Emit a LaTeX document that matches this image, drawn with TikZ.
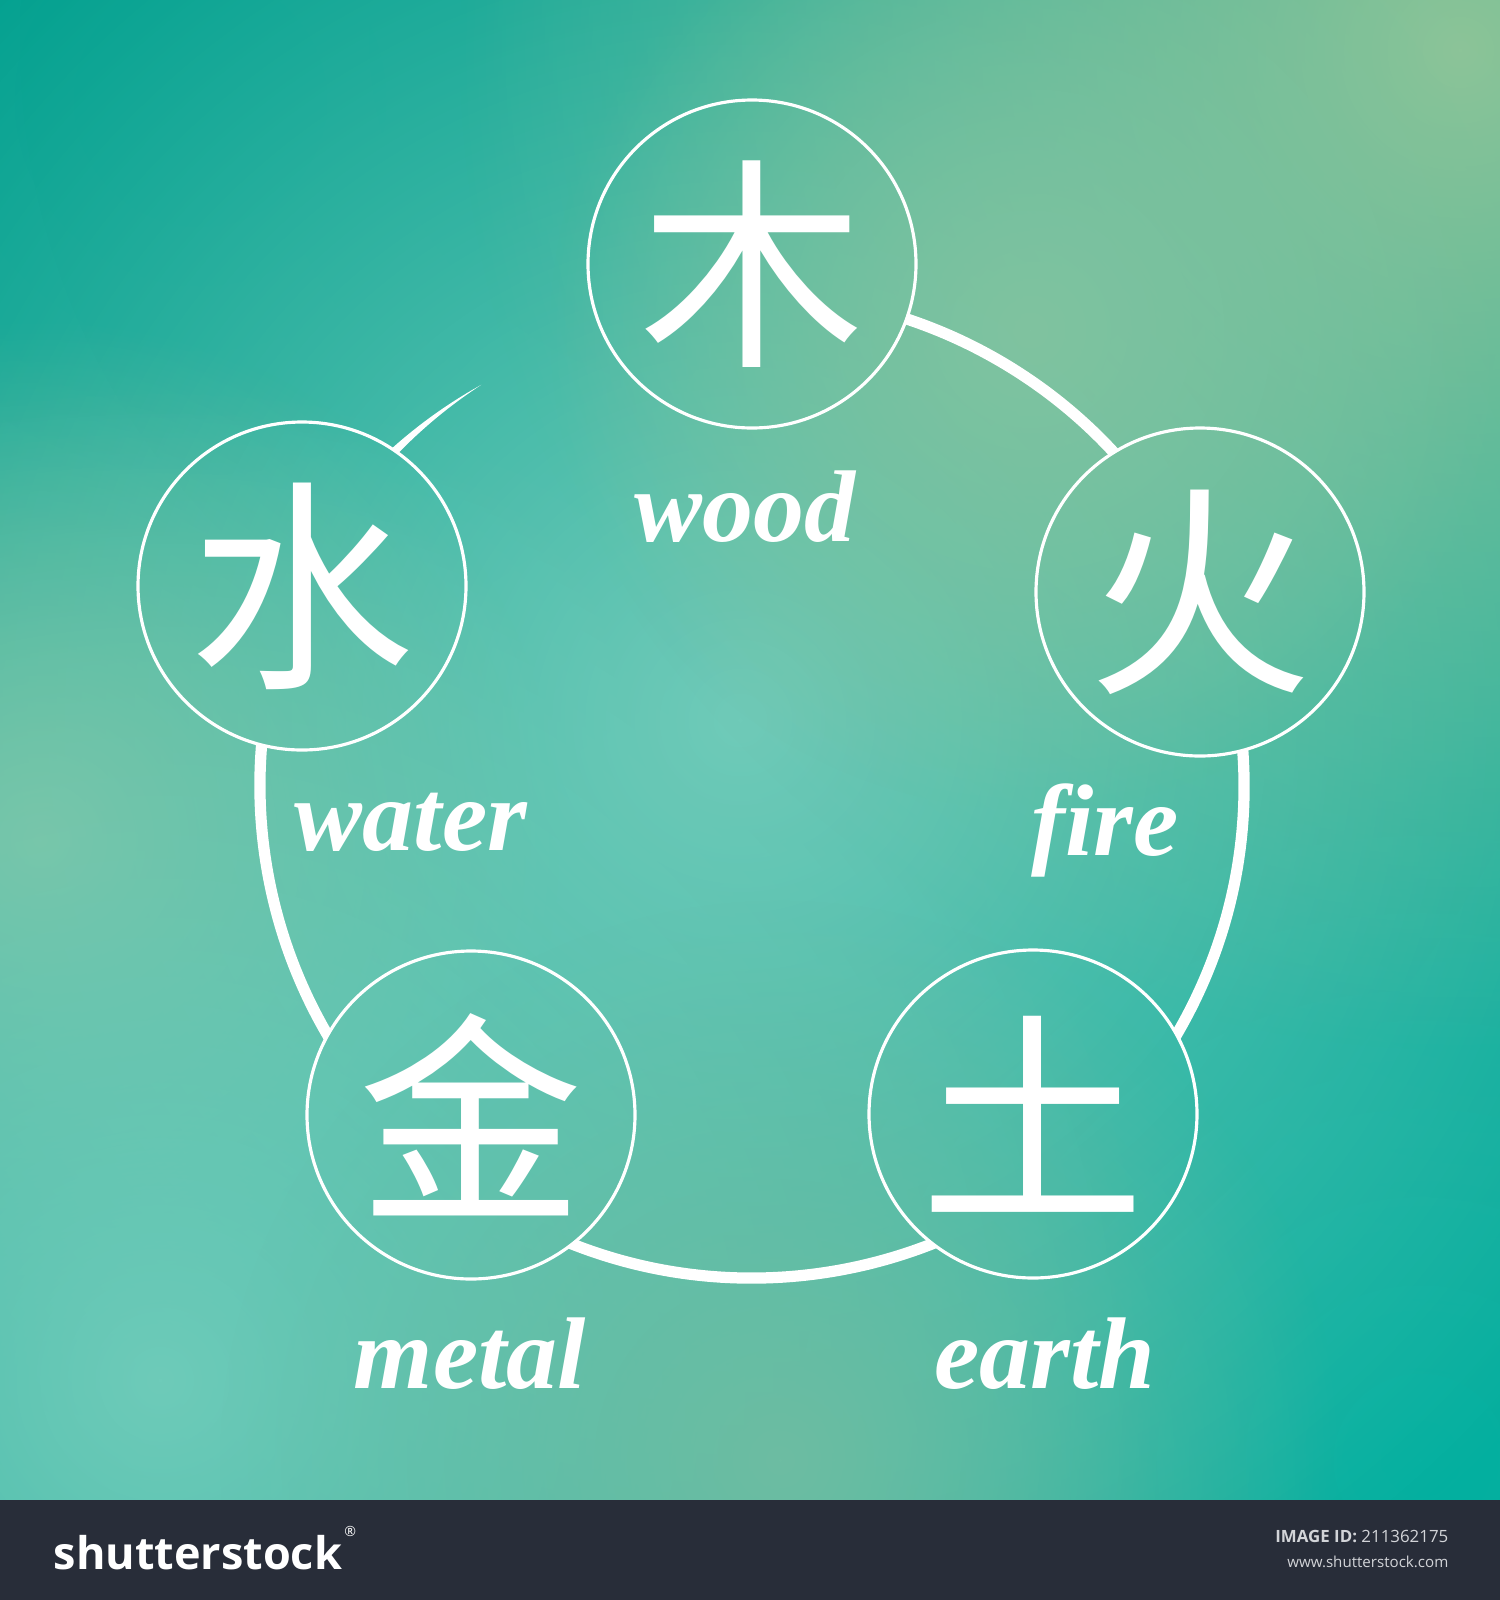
\documentclass[tikz,border=0pt]{standalone}
\usepackage{fontspec}
\usepackage{tikz}
\usetikzlibrary{fadings}

\setmainfont{Liberation Serif}
\newfontfamily\hanfont{Noto Sans CJK SC}
\newfontfamily\footfont{Open Sans}

\definecolor{tealbase}{HTML}{18A898}
\definecolor{tealdark}{HTML}{00A08F}
\definecolor{tealmid}{HTML}{02A898}
\definecolor{tealbright}{HTML}{02B0A0}
\definecolor{mintlight}{HTML}{70CBB9}
\definecolor{mintsoft}{HTML}{6ECBB9}
\definecolor{sagegreen}{HTML}{8CC498}
\definecolor{sagesoft}{HTML}{80C3A0}
\definecolor{sagebottom}{HTML}{6DBDA2}
\definecolor{footerbg}{HTML}{282D39}
\definecolor{footertext}{HTML}{D2D4D8}

\tikzfading[name=softblob, inner color=transparent!0, outer color=transparent!100]

\begin{document}
\begin{tikzpicture}[
    x=0.1mm, y=-0.1mm,
    blob/.style={path fading=softblob},
    elem/.style={
        circle,
        draw=white,
        line width=0.9pt,
        minimum size=32.8mm,
        inner sep=0pt
    },
    glyph/.style={
        text=white,
        inner sep=0pt,
        font=\hanfont\fontsize{64}{64}\selectfont
    },
    tag/.style={
        text=white,
        anchor=base,
        inner sep=0pt,
        font=\bfseries\itshape\fontsize{29}{29}\selectfont
    },
    ring/.style={
        draw=white,
        line width=3.2pt
    }
]

\useasboundingbox (0,0) rectangle (1500,1600);

% Background
\fill[tealbase] (0,0) rectangle (1500,1500);
\begin{scope}
\clip (0,0) rectangle (1500,1500);
\fill[tealdark, blob] (200,100) circle (1500);
\fill[tealdark, blob] (720,40) circle (700);
\fill[tealmid, blob] (1490,820) circle (760);
\fill[tealbright, blob] (1420,1460) circle (700);
\fill[mintlight, blob] (740,720) circle (1050);
\fill[sagegreen, blob] (1460,50) circle (1000);
\fill[sagesoft, blob] (1030,330) circle (480);
\fill[sagesoft, blob] (40,840) circle (520);
\fill[mintsoft, blob] (160,1380) circle (1000);
\fill[sagebottom, blob] (780,1460) circle (560);
\end{scope}

% Footer
\fill[footerbg] (0,1500) rectangle (1600,1600);
\node[anchor=west, inner sep=0pt, text=white, font=\footfont\bfseries\fontsize{12.8}{12.8}\selectfont] (brand) at (53,1553) {shutterstock};
\node[anchor=south west, inner sep=0.3pt, text=white, font=\footfont\fontsize{4}{4}\selectfont] (regmark) at (brand.east |- 0,1538) {®};
\node[anchor=base east, inner sep=0pt, text=footertext, font=\footfont\fontsize{4.8}{4.8}\selectfont] (imgid) at (1449,1542) {\textbf{IMAGE ID:} 211362175};
\node[anchor=base east, inner sep=0pt, text=footertext, font=\footfont\fontsize{4.3}{4.3}\selectfont] (site) at (1449,1567) {www.shutterstock.com};

% Elements
\coordinate (bigc) at (752,786);
\node[elem] (wood) at (752,264) {};
\node[elem] (fire) at (1200,592) {};
\node[elem] (earth) at (1033,1114) {};
\node[elem] (metal) at (471,1115) {};
\node[elem] (water) at (302,586) {};

% Cycle
\begin{scope}[even odd rule]
\clip (0,0) rectangle (1500,1500)
    (wood.center) circle (164) (fire.center) circle (164)
    (earth.center) circle (164) (metal.center) circle (164)
    (water.center) circle (164);
\draw[ring] (bigc) ++(-150:492) arc[start angle=-150, end angle=-460, radius=492];
\begin{scope}[shift={(bigc)}]
\fill[white] plot[domain=-142:-124, samples=30] (\x:{492-8*(\x+142)/18+5.5*(-124-\x)/18})
    -- plot[domain=-124:-142, samples=30] (\x:{492-8*(\x+142)/18-5.5*(-124-\x)/18}) -- cycle;
\end{scope}
\end{scope}

% Characters
\node[glyph] (woodg) at (wood) {木};
\node[glyph] (fireg) at (fire) {火};
\node[glyph] (earthg) at (earth) {土};
\node[glyph] (metalg) at (metal) {金};
\node[glyph] (waterg) at (water) {水};

% Labels
\node[tag] (woodt) at (745,541) {wood};
\node[tag] (firet) at (1105,855) {fire};
\node[tag] (eartht) at (1045,1388) {earth};
\node[tag] (metalt) at (470,1388) {metal};
\node[tag] (watert) at (411,850) {water};

\end{tikzpicture}
\end{document}
